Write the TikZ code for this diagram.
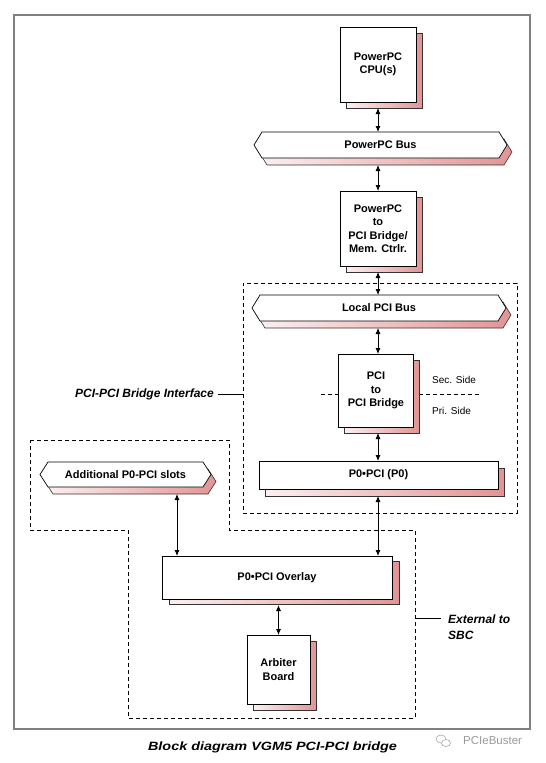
\documentclass[tikz,border=0pt]{standalone}
\usepackage{fontspec}
\setmainfont{Liberation Sans}
\usepackage{graphicx}
\usetikzlibrary{arrows.meta,backgrounds,calc}
\definecolor{shL}{RGB}{252,240,240}
\definecolor{shR}{RGB}{226,148,148}
\definecolor{framegray}{RGB}{128,128,128}
\begin{document}
\begin{tikzpicture}[x=1pt,y=-1pt,
  boxtext/.style={font=\fontsize{11}{13.5}\selectfont\bfseries},
  blk/.style={draw=black, line width=0.7pt, fill=white, inner sep=0pt, outer sep=0pt, align=center, boxtext},
  busn/.style={inner sep=0pt, outer sep=0pt, align=center, boxtext},
  shad/.style={draw=black!80, line width=0.6pt, left color=shL, right color=shR},
  busfront/.style={draw=black, line width=0.7pt, fill=white},
  arr/.style={line width=0.8pt, {Latex[length=6pt,width=5pt]}-{Latex[length=6pt,width=5pt]}},
  dsh/.style={line width=0.8pt, dash pattern=on 4pt off 3pt},
  lbl/.style={font=\fontsize{12}{16}\selectfont\bfseries\itshape, inner sep=0pt},
  sidelbl/.style={font=\fontsize{10}{12}\selectfont, inner sep=0pt, anchor=west},
  leader/.style={line width=0.7pt}
]
\useasboundingbox (0,0) rectangle (546,763);
\draw[framegray, line width=1.3pt] (14,15) rectangle (530,729);

% boxes
\node[blk, minimum width=76pt, minimum height=75pt] (cpu) at (378,64.5) {PowerPC\\CPU(s)};
\node[blk, minimum width=76pt, minimum height=75pt] (bmc) at (378,228.5) {PowerPC\\to\\PCI Bridge/\\Mem. Ctrlr.};
\node[blk, minimum width=75pt, minimum height=73pt] (ppb) at (376,390.5) {PCI\\to\\PCI Bridge};
\node[blk, minimum width=239pt, minimum height=28pt] (p0) at (378.5,475) {P0•PCI (P0)};
\node[blk, minimum width=230pt, minimum height=43pt] (ov) at (277,577.5) {P0•PCI Overlay};
\node[blk, minimum width=63pt, minimum height=69pt] (arb) at (278.5,669.5) {Arbiter\\Board};

% buses
\node[busn, minimum width=237pt, minimum height=26pt] (pbus) at (380.5,145) {PowerPC Bus};
\node[busn, minimum width=238pt, minimum height=26pt] (lbus) at (379,308) {Local PCI Bus};
\node[busn, minimum width=155pt, minimum height=25pt] (abus) at (125.5,474.5) {Additional P0-PCI slots};

% dashed regions
\node[dsh, draw, minimum width=274pt, minimum height=230pt, inner sep=0pt, outer sep=0pt] (r1) at (380,398) {};
\draw[dsh] (30,440) -- (229,440) -- (229,530) -- (415,530) -- (415,718) -- (128,718) -- (128,530) -- (30,530) -- cycle;

% labels
\node[lbl, anchor=east] (pbi) at (214,394) {PCI-PCI Bridge Interface};
\draw[leader] ([xshift=4pt]pbi.east) -- (pbi.east -| r1.west);
\node[lbl, anchor=north west, align=left] (ext) at (448,615) {External to\\SBC};
\coordinate (r2e) at (415,618);
\draw[leader] (r2e) -- ($(ext.west |- r2e)+(-7,0)$);
\node[sidelbl] (sec) at (432,380) {Sec. Side};
\node[sidelbl] (pri) at (432,411) {Pri. Side};

% arrows
\coordinate (ax) at (378,0);
\coordinate (ax2) at (177,0);
\draw[arr] ($(cpu.south)+(0,6)$) -- (cpu.south |- pbus.north);
\draw[arr] ($(bmc.north |- pbus.south)+(0,7)$) -- (bmc.north);
\draw[arr] ($(bmc.south)+(0,6)$) -- (bmc.south |- lbus.north);
\draw[arr] ($(ax |- lbus.south)+(0,7)$) -- (ax |- ppb.north);
\draw[arr] ($(ax |- ppb.south)+(0,6)$) -- (ax |- p0.north);
\draw[arr] ($(ax |- p0.south)+(0,7)$) -- (ax |- ov.north);
\draw[arr] ($(ax2 |- abus.south)+(0,7)$) -- (ax2 |- ov.north);
\draw[arr] ($(arb.north |- ov.south)+(0,6)$) -- (arb.north);

% caption and watermark
\node[inner sep=0pt] (cap) at (272.5,747) {\scalebox{1.2}[1]{\fontsize{12}{14}\selectfont\bfseries\itshape Block diagram VGM5 PCI-PCI bridge}};
\node[inner sep=0pt, anchor=west, text=black!40, font=\fontsize{11.5}{13}\selectfont] (wm) at (463,741) {PCIeBuster};
\draw[black!35, line width=0.6pt] (441,739) ellipse (5 and 4);
\draw[black!35, line width=0.6pt, fill=white] (446,743) ellipse (4.5 and 3.5);

\begin{scope}[on background layer]
  \draw[dsh] ($(ppb.west)+(-18,3.5)$) -- ($(ppb.east)+(67,3.5)$);
  \foreach \n/\dx/\dy in {cpu/6/6, bmc/6/6, ppb/6/6, p0/6/7, ov/7/5, arb/6/6}
    \path[shad] ([shift={(\dx,\dy)}]\n.north west) rectangle ([shift={(\dx,\dy)}]\n.south east);
  \foreach \b in {pbus,lbus,abus} {
    \path[shad] ([shift={(5,7)}]\b.north west) -- ([shift={(5,7)}]\b.north east) -- ([shift={(13,7)}]\b.east) -- ([shift={(5,7)}]\b.south east) -- ([shift={(5,7)}]\b.south west) -- ([shift={(-3,7)}]\b.west) -- cycle;
    \path[busfront] (\b.north west) -- (\b.north east) -- ([xshift=8pt]\b.east) -- (\b.south east) -- (\b.south west) -- ([xshift=-8pt]\b.west) -- cycle;
  }
\end{scope}
\end{tikzpicture}
\end{document}
